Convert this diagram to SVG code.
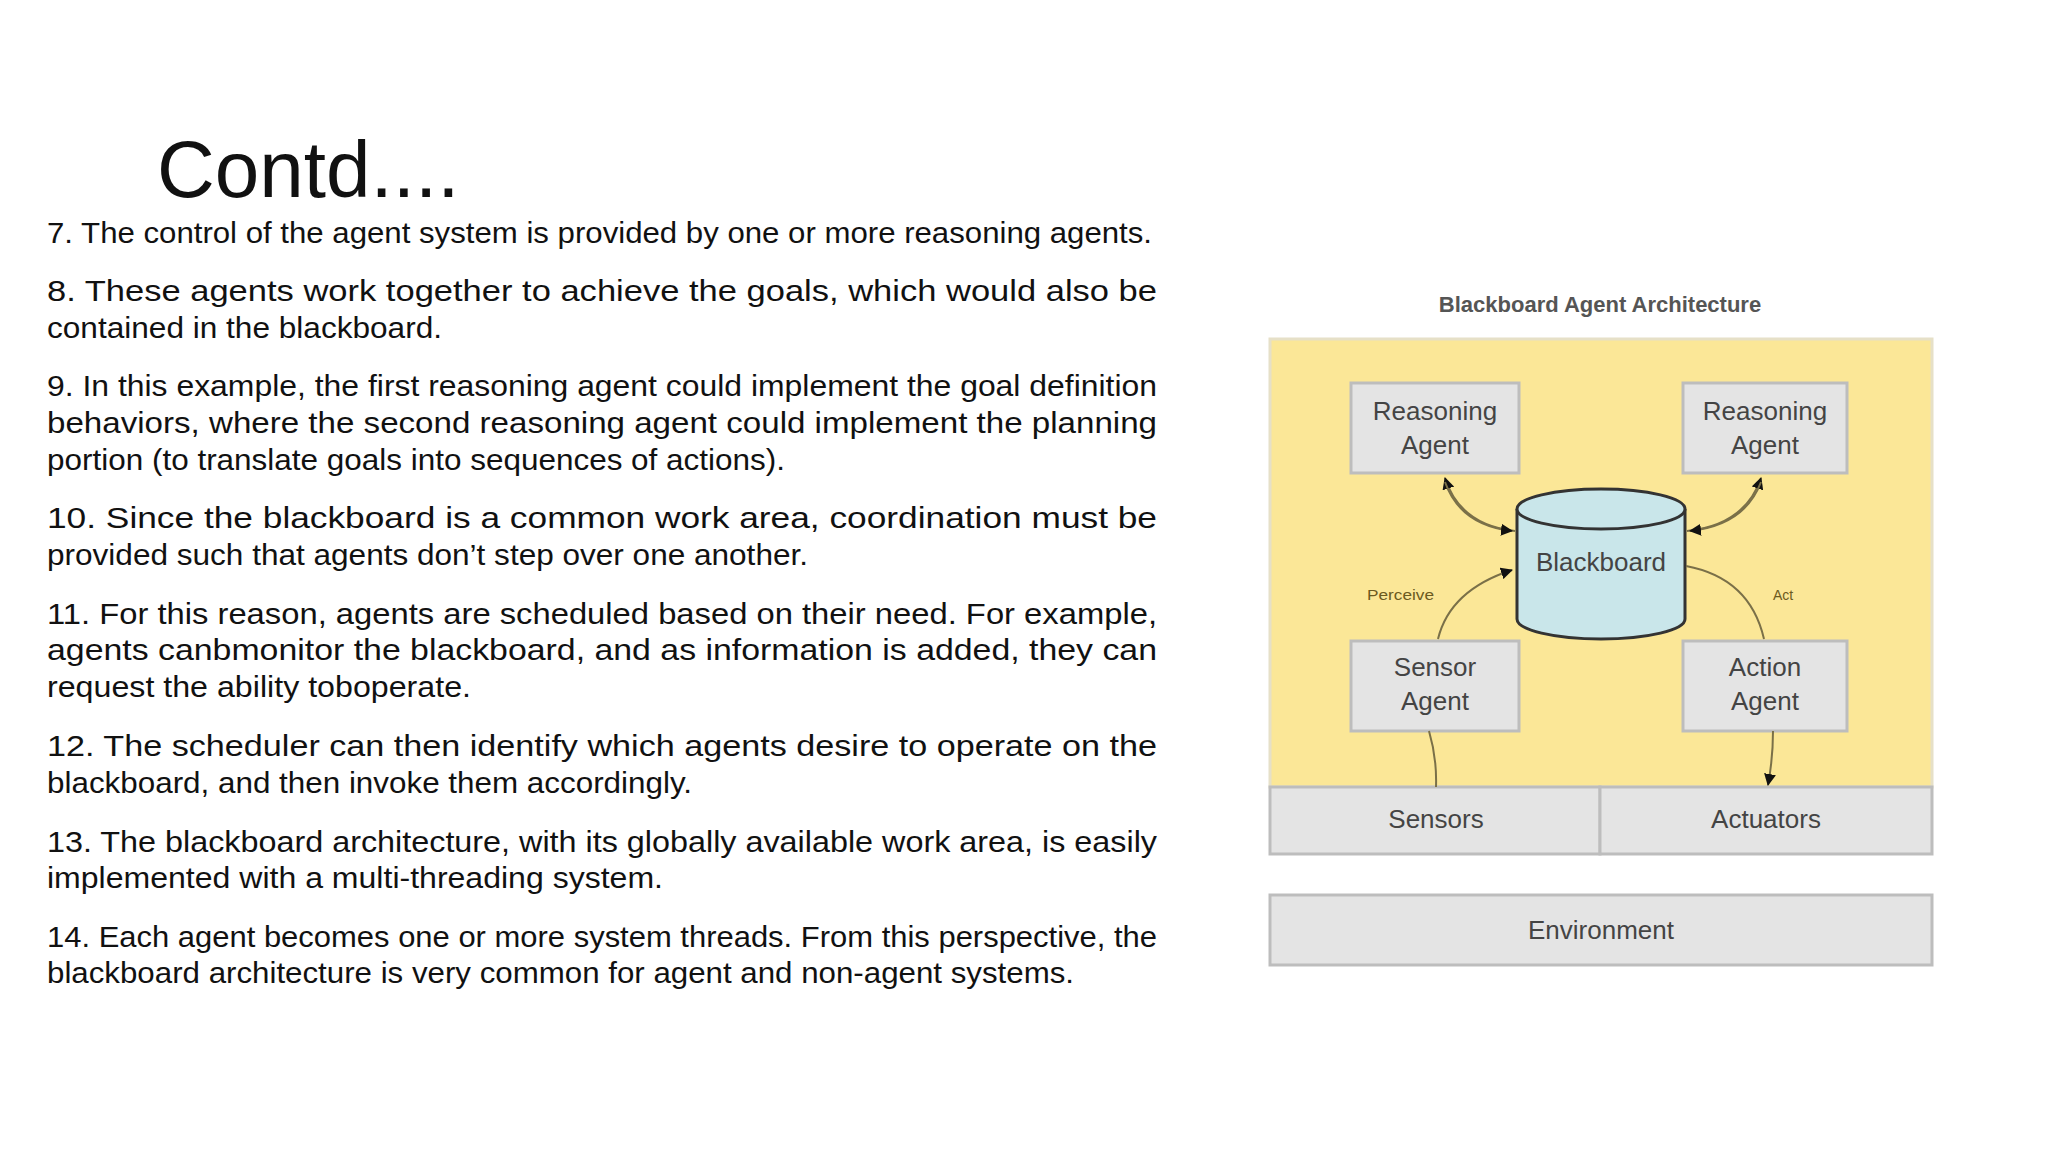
<svg xmlns="http://www.w3.org/2000/svg" width="2048" height="1152" viewBox="0 0 2048 1152">
<style>
.b{font-family:"Liberation Sans",Arial,sans-serif;font-size:29px;fill:#111}
.n{fill:#e4e4e4;stroke:#bdbdbd;stroke-width:3}
.l{font-family:"Liberation Sans",Arial,sans-serif;font-size:26px;fill:#444;text-anchor:middle}
.c{fill:none;stroke:#7a7048;stroke-width:2}
</style>
<defs><marker id="a" markerWidth="14" markerHeight="12" refX="11" refY="6" orient="auto" markerUnits="userSpaceOnUse"><path d="M0,0L12,6L0,12z" fill="#111"/></marker></defs>
<rect width="2048" height="1152" fill="#fff"/>
<text x="157" y="197" font-family="'Liberation Sans',Arial,sans-serif" font-size="80" fill="#111">Contd....</text>
<g class="b">
<text x="47" y="243" textLength="1105" lengthAdjust="spacingAndGlyphs">7. The control of the agent system is provided by one or more reasoning agents.</text>
<text x="47" y="301" textLength="1110" lengthAdjust="spacingAndGlyphs">8. These agents work together to achieve the goals, which would also be</text>
<text x="47" y="338" textLength="395" lengthAdjust="spacingAndGlyphs">contained in the blackboard.</text>
<text x="47" y="396" textLength="1110" lengthAdjust="spacingAndGlyphs">9. In this example, the first reasoning agent could implement the goal definition</text>
<text x="47" y="433" textLength="1110" lengthAdjust="spacingAndGlyphs">behaviors, where the second reasoning agent could implement the planning</text>
<text x="47" y="470" textLength="738" lengthAdjust="spacingAndGlyphs">portion (to translate goals into sequences of actions).</text>
<text x="47" y="528" textLength="1110" lengthAdjust="spacingAndGlyphs">10. Since the blackboard is a common work area, coordination must be</text>
<text x="47" y="565" textLength="761" lengthAdjust="spacingAndGlyphs">provided such that agents don’t step over one another.</text>
<text x="47" y="624" textLength="1110" lengthAdjust="spacingAndGlyphs">11. For this reason, agents are scheduled based on their need. For example,</text>
<text x="47" y="660" textLength="1110" lengthAdjust="spacingAndGlyphs">agents canbmonitor the blackboard, and as information is added, they can</text>
<text x="47" y="697" textLength="424" lengthAdjust="spacingAndGlyphs">request the ability toboperate.</text>
<text x="47" y="756" textLength="1110" lengthAdjust="spacingAndGlyphs">12. The scheduler can then identify which agents desire to operate on the</text>
<text x="47" y="793" textLength="645" lengthAdjust="spacingAndGlyphs">blackboard, and then invoke them accordingly.</text>
<text x="47" y="852" textLength="1110" lengthAdjust="spacingAndGlyphs">13. The blackboard architecture, with its globally available work area, is easily</text>
<text x="47" y="888" textLength="616" lengthAdjust="spacingAndGlyphs">implemented with a multi-threading system.</text>
<text x="47" y="947" textLength="1110" lengthAdjust="spacingAndGlyphs">14. Each agent becomes one or more system threads. From this perspective, the</text>
<text x="47" y="983" textLength="1027" lengthAdjust="spacingAndGlyphs">blackboard architecture is very common for agent and non-agent systems.</text>
</g>
<text x="1600" y="312" font-family="'Liberation Sans',Arial,sans-serif" font-size="22" font-weight="bold" fill="#555" text-anchor="middle">Blackboard Agent Architecture</text>
<rect x="1270" y="339" width="662" height="448" fill="#fbe797" stroke="#e6e0c8" stroke-width="3"/>
<g id="sensors"><rect x="1270" y="787" width="330" height="67" class="n"/><text x="1436" y="828" class="l">Sensors</text></g>
<g id="actuators"><rect x="1600" y="787" width="332" height="67" class="n"/><text x="1766" y="828" class="l">Actuators</text></g>
<g id="environment"><rect x="1270" y="895" width="662" height="70" class="n"/><text x="1601" y="939" class="l">Environment</text></g>
<g id="reasoning1"><rect x="1351" y="383" width="168" height="90" class="n"/><text x="1435" y="420" class="l">Reasoning</text><text x="1435" y="454" class="l">Agent</text></g>
<g id="reasoning2"><rect x="1683" y="383" width="164" height="90" class="n"/><text x="1765" y="420" class="l">Reasoning</text><text x="1765" y="454" class="l">Agent</text></g>
<g id="sensor"><rect x="1351" y="641" width="168" height="90" class="n"/><text x="1435" y="676" class="l">Sensor</text><text x="1435" y="710" class="l">Agent</text></g>
<g id="action"><rect x="1683" y="641" width="164" height="90" class="n"/><text x="1765" y="676" class="l">Action</text><text x="1765" y="710" class="l">Agent</text></g>
<g id="blackboard">
<path d="M1517,509 L1517,619 A84,20 0 0 0 1685,619 L1685,509" fill="#c9e6ea" stroke="#333" stroke-width="3"/>
<ellipse cx="1601" cy="509" rx="84" ry="20" fill="#c9e6ea" stroke="#333" stroke-width="3"/>
<text x="1601" y="571" class="l" fill="#2a3a4a">Blackboard</text>
</g>
<g id="connectors">
<path class="c" d="M1515,531 Q1460,525 1445,478" marker-end="url(#a)"/>
<path class="c" d="M1445,482 Q1460,525 1512,531" marker-end="url(#a)"/>
<path class="c" d="M1687,531 Q1745,525 1761,478" marker-end="url(#a)"/>
<path class="c" d="M1761,482 Q1745,525 1690,531" marker-end="url(#a)"/>
<path class="c" d="M1438,639 Q1450,590 1512,570" marker-end="url(#a)"/>
<path class="c" d="M1686,566 Q1750,578 1764,639"/>
<path class="c" d="M1429,731 Q1437,758 1436,787"/>
<path class="c" d="M1773,731 Q1773,758 1768,785" marker-end="url(#a)"/>
<text x="1367" y="600" font-family="'Liberation Sans',Arial,sans-serif" font-size="14" fill="#6b5a20" textLength="67" lengthAdjust="spacingAndGlyphs">Perceive</text>
<text x="1773" y="600" font-family="'Liberation Sans',Arial,sans-serif" font-size="14" fill="#6b5a20">Act</text>
</g>
</svg>
